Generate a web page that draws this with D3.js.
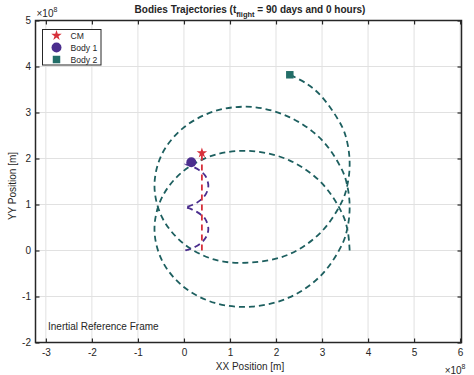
<!DOCTYPE html>
<html>
<head>
<meta charset="utf-8">
<script src="https://cdn.jsdelivr.net/npm/d3@7"></script>
<style>
  body { margin: 0; background: #fff; }
  text { font-family: "Liberation Sans", Arial, Helvetica, sans-serif; fill: #262626; }
</style>
</head>
<body>
<div id="chart"></div>
<script>
// Chart size (matches the reference picture)
const width = 474, height = 375;

// Tick values (x 10^8)
const xTicks = [-3, -2, -1, 0, 1, 2, 3, 4, 5, 6];
const yTicks = [-2, -1, 0, 1, 2, 3, 4, 5];

// Legend entries
const legendNames = ['CM', 'Body 1', 'Body 2'];

// Centre of mass path (x 10^8 m)
const cmX = [0.39, 0.39];
const cmY = [0.00, 2.12];

// Body 1 path (x 10^8 m)
const body1X = [0.03, 0.05, 0.10, 0.18, 0.28, 0.38, 0.46, 0.51, 0.53, 0.51, 0.46, 0.38, 0.28, 0.18, 0.10, 0.05,
  0.03, 0.05, 0.10, 0.18, 0.28, 0.38, 0.46, 0.51, 0.53, 0.51, 0.46, 0.38, 0.28, 0.18, 0.10, 0.05, 0.03, 0.05, 0.10, 0.16];
const body1Y = [0.00, 0.01, 0.02, 0.05, 0.10, 0.17, 0.26, 0.36, 0.47, 0.58, 0.69, 0.77, 0.84, 0.89, 0.92, 0.93,
  0.94, 0.95, 0.96, 0.99, 1.04, 1.11, 1.20, 1.30, 1.41, 1.52, 1.63, 1.71, 1.78, 1.83, 1.86, 1.87, 1.88, 1.89, 1.90, 1.92];

// Body 2 path (x 10^8 m)
const body2X = [3.60, 3.56, 3.44, 2.98, 2.29, 1.48, 0.67, -0.02, -0.48, -0.64, -0.48, -0.02, 0.67, 1.48, 2.29, 2.98,
  3.44, 3.56, 3.60, 3.56, 3.44, 2.98, 2.29, 1.48, 0.67, -0.02, -0.48, -0.64, -0.48, -0.02, 0.67, 1.48, 2.29, 2.98,
  3.44, 3.56, 3.60, 3.56, 3.44, 2.98, 2.66, 2.30];
const body2Y = [0.00, 0.41, 0.80, 1.48, 1.96, 2.16, 2.08, 1.72, 1.15, 0.47, -0.21, -0.78, -1.14, -1.22, -1.02, -0.54,
  0.14, 0.53, 0.94, 1.35, 1.74, 2.42, 2.90, 3.12, 3.03, 2.66, 2.09, 1.41, 0.73, 0.16, -0.20, -0.26, -0.08, 0.40,
  1.08, 1.47, 1.88, 2.29, 2.68, 3.36, 3.63, 3.82];

const colors = { cm: '#d7303a', body1: '#4b2e8e', body2: '#1d5f5f', body2Marker: '#236e68' };

const svg = d3.select('#chart').append('svg')
  .attr('width', width)
  .attr('height', height);

const x = d3.scaleLinear().domain([-3.225, 6.03]).range([35.5, 461.5]);
const y = d3.scaleLinear().domain([-2, 5]).range([342.5, 20.5]);

const plotLeft = x.range()[0], plotRight = x.range()[1];
const plotTop = y.range()[1], plotBottom = y.range()[0];

// Grid lines
svg.append('g')
  .selectAll('line')
  .data(xTicks)
  .enter().append('line')
  .attr('x1', d => x(d)).attr('x2', d => x(d))
  .attr('y1', plotTop).attr('y2', plotBottom)
  .attr('stroke', '#e1e1e1');

svg.append('g')
  .selectAll('line')
  .data(yTicks)
  .enter().append('line')
  .attr('x1', plotLeft).attr('x2', plotRight)
  .attr('y1', d => y(d)).attr('y2', d => y(d))
  .attr('stroke', '#e1e1e1');

// Trajectories
const line = d3.line()
  .x(d => x(d[0]))
  .y(d => y(d[1]))
  .curve(d3.curveCatmullRom.alpha(0.5));

const plot = svg.append('g');

function drawPath(xs, ys, color) {
  plot.append('path')
    .attr('d', line(d3.zip(xs, ys)))
    .attr('fill', 'none')
    .attr('stroke', color)
    .attr('stroke-width', 1.8)
    .attr('stroke-dasharray', '6,4');
}

drawPath(body2X, body2Y, colors.body2);
drawPath(body1X, body1Y, colors.body1);
drawPath(cmX, cmY, colors.cm);

// Final positions (markers)
const star = d3.symbol().type(d3.symbolStar).size(34);
const circle = d3.symbol().type(d3.symbolCircle).size(78);
const square = d3.symbol().type(d3.symbolSquare).size(56);

plot.append('path')
  .attr('d', star())
  .attr('transform', `translate(${x(cmX[cmX.length - 1])},${y(cmY[cmY.length - 1])})`)
  .attr('fill', colors.cm);

plot.append('path')
  .attr('d', circle())
  .attr('transform', `translate(${x(body1X[body1X.length - 1])},${y(body1Y[body1Y.length - 1])})`)
  .attr('fill', colors.body1);

plot.append('path')
  .attr('d', square())
  .attr('transform', `translate(${x(body2X[body2X.length - 1])},${y(body2Y[body2Y.length - 1])})`)
  .attr('fill', colors.body2Marker);

// Axes with inward ticks
const fmt = d => d < 0 ? '-' + Math.abs(d) : String(d);

svg.append('g')
  .attr('transform', `translate(0,${plotBottom})`)
  .call(d3.axisBottom(x).tickValues(xTicks).tickFormat(fmt).tickSizeInner(-4).tickSizeOuter(0).tickPadding(6.5));

svg.append('g')
  .attr('transform', `translate(${plotLeft},0)`)
  .call(d3.axisLeft(y).tickValues(yTicks).tickFormat(fmt).tickSizeInner(-4).tickSizeOuter(0).tickPadding(4.5));

svg.append('g')
  .attr('transform', `translate(0,${plotTop})`)
  .call(d3.axisTop(x).tickValues(xTicks).tickFormat('').tickSizeInner(-4).tickSizeOuter(0));

svg.append('g')
  .attr('transform', `translate(${plotRight},0)`)
  .call(d3.axisRight(y).tickValues(yTicks).tickFormat('').tickSizeInner(-4).tickSizeOuter(0));

svg.selectAll('.domain').remove();
svg.selectAll('.tick line').attr('stroke', '#262626').attr('stroke-width', 1.2);
svg.selectAll('.tick text')
  .style('font-family', '"Liberation Sans", Arial, sans-serif')
  .style('font-size', '10px')
  .attr('fill', '#404040');

// Box
svg.append('rect')
  .attr('x', plotLeft).attr('y', plotTop)
  .attr('width', plotRight - plotLeft).attr('height', plotBottom - plotTop)
  .attr('fill', 'none')
  .attr('stroke', '#262626')
  .attr('stroke-width', 1.5);

// Exponent labels
const expTop = svg.append('text').attr('x', plotLeft + 1).attr('y', 17).style('font-size', '10px').attr('fill', '#404040');
expTop.append('tspan').text('\u00d710');
expTop.append('tspan').attr('dy', -5).style('font-size', '7px').text('8');

const expBottom = svg.append('text').attr('x', plotRight + 4).attr('y', 374).attr('text-anchor', 'end').style('font-size', '10px').attr('fill', '#404040');
expBottom.append('tspan').text('\u00d710');
expBottom.append('tspan').attr('dy', -5).style('font-size', '7px').text('8');

// Title
const title = svg.append('text')
  .attr('x', 250).attr('y', 12.5)
  .attr('text-anchor', 'middle')
  .style('font-size', '10px')
  .style('font-weight', 'bold');
title.append('tspan').text('Bodies Trajectories (t');
title.append('tspan').attr('dy', 4).style('font-size', '7.5px').text('flight');
title.append('tspan').attr('dy', -4).text(' = 90 days and 0 hours)');

// Axis labels
svg.append('text')
  .attr('x', 250).attr('y', 370)
  .attr('text-anchor', 'middle')
  .style('font-size', '10px')
  .attr('fill', '#404040')
  .text('XX Position [m]');

svg.append('text')
  .attr('transform', 'translate(16,186) rotate(-90)')
  .attr('text-anchor', 'middle')
  .style('font-size', '10px')
  .attr('fill', '#404040')
  .text('YY Position [m]');

// Frame note
svg.append('text')
  .attr('x', 48).attr('y', 330)
  .style('font-size', '10px')
  .text('Inertial Reference Frame');

// Legend
const legend = svg.append('g').attr('transform', 'translate(42.5,29.5)');
legend.append('rect')
  .attr('width', 58.5).attr('height', 35.5)
  .attr('fill', '#fff')
  .attr('stroke', '#262626')
  .attr('stroke-width', 1);

const legendSymbols = [star, circle, square];
const legendColors = [colors.cm, colors.body1, colors.body2Marker];

legend.selectAll('g.entry')
  .data(legendNames)
  .enter().append('g')
  .attr('class', 'entry')
  .attr('transform', (d, i) => `translate(0,${6 + i * 12})`)
  .each(function(d, i) {
    const g = d3.select(this);
    g.append('path')
      .attr('d', legendSymbols[i]())
      .attr('transform', 'translate(14,0)')
      .attr('fill', legendColors[i]);
    g.append('text')
      .attr('x', 28).attr('y', 3.1)
      .style('font-size', '8.6px')
      .text(d);
  });
</script>
</body>
</html>
